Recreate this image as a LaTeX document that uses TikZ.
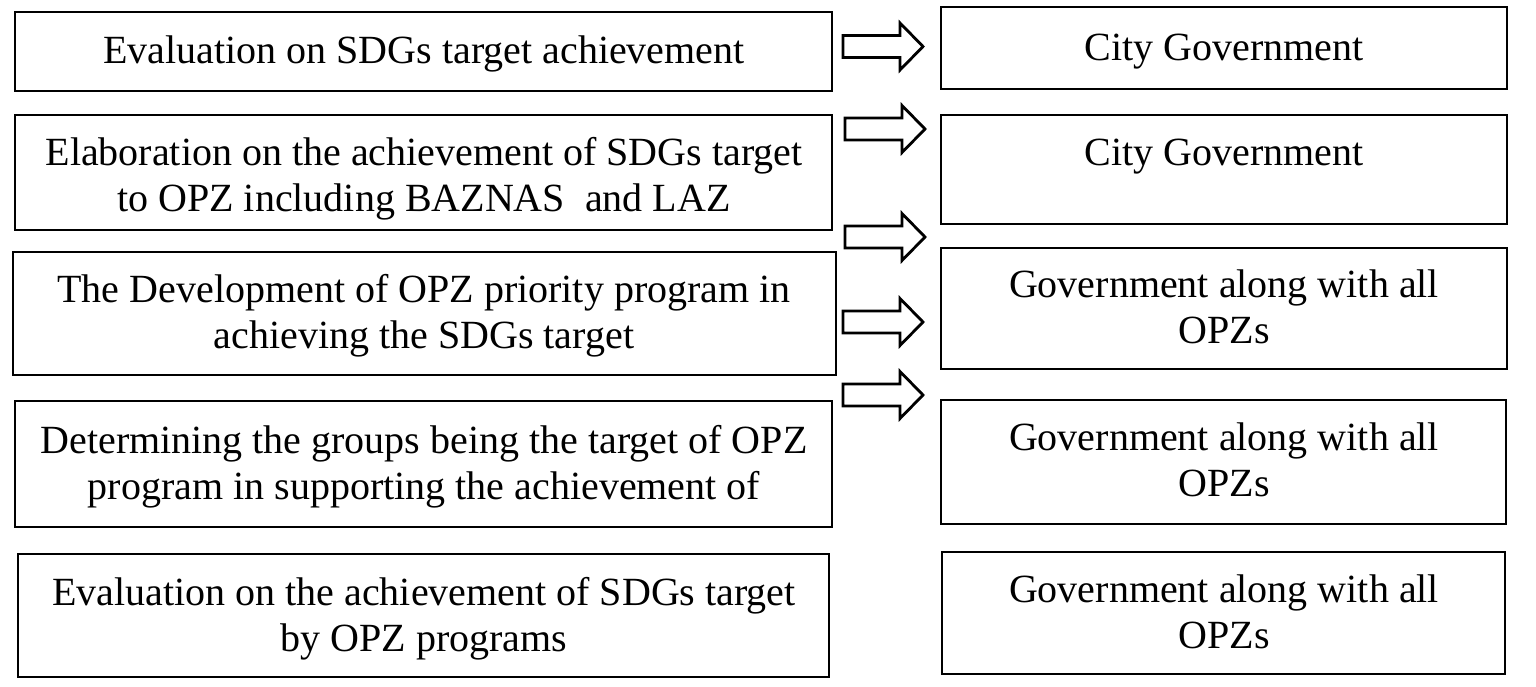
\documentclass[tikz,border=0pt]{standalone}
\usepackage{fontspec}
\setmainfont{Liberation Serif}
\usetikzlibrary{fit}
\tikzset{
  box/.style={draw=black, line width=0.9pt, rectangle, inner sep=0pt, fit={#1}},
  txt/.style={anchor=base, inner sep=0pt, font=\fontsize{20}{23}\selectfont},
  arrowline/.style={draw=black, line width=1.4pt, line join=miter}
}
\newcommand{\twolines}[2]{\begin{tabular}[t]{@{}c@{}}#1\\#2\end{tabular}}
\begin{document}
\begin{tikzpicture}[x=0.5pt,y=-0.5pt]
\useasboundingbox (0,0) rectangle (1536,686);
% left boxes
\node[box={(15,12) (832,91)}] (L1) {};
\node[box={(15,115) (832,230)}] (L2) {};
\node[box={(13,252) (836,375)}] (L3) {};
\node[box={(15,401) (832,527)}] (L4) {};
\node[box={(18,554) (829,677)}] (L5) {};
% right boxes
\node[box={(941,7) (1507,89)}] (R1) {};
\node[box={(941,115) (1507,224)}] (R2) {};
\node[box={(941,248) (1507,369)}] (R3) {};
\node[box={(941,400) (1506,524)}] (R4) {};
\node[box={(942,552) (1505,674)}] (R5) {};
% left texts
\node[txt] (tL1) at (424,63) {Evaluation on SDGs target achievement};
\node[txt] (tL2) at (424,165) {\twolines{Elaboration on the achievement of SDGs target}{to OPZ including BAZNAS\ \ and LAZ}};
\node[txt] (tL3) at (424,302) {\twolines{The Development of OPZ priority program in}{achieving the SDGs target}};
\node[txt] (tL4) at (424,453) {\twolines{Determining the groups being the target of OPZ}{program in supporting the achievement of}};
\node[txt] (tL5) at (424,605) {\twolines{Evaluation on the achievement of SDGs target}{by OPZ programs}};
% right texts
\node[txt] (tR1) at (1224,60) {City Government};
\node[txt] (tR2) at (1224,165) {City Government};
\node[txt] (tR3) at (1224,297) {\twolines{Government along with all}{OPZs}};
\node[txt] (tR4) at (1224,450) {\twolines{Government along with all}{OPZs}};
\node[txt] (tR5) at (1224,602) {\twolines{Government along with all}{OPZs}};
% block arrows
\foreach \cx/\cy in {883/46.5, 885/129, 885/237, 883/322, 883/395}
  \draw[arrowline, shift={(\cx,\cy)}]
    (-40,-11) -- (17,-11) -- (17,-23.5) -- (40,0) -- (17,23.5) -- (17,11) -- (-40,11) -- cycle;
\end{tikzpicture}
\end{document}
